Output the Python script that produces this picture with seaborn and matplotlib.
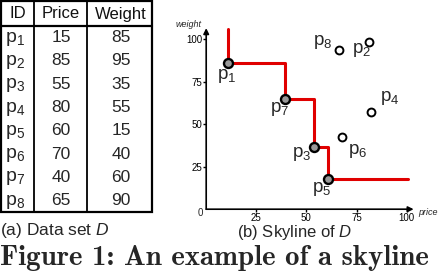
import matplotlib
matplotlib.use("Agg")
import matplotlib.pyplot as plt
from matplotlib.patches import Rectangle
import seaborn as sns
import pandas as pd

# ---- data ----
ids = ["p1", "p2", "p3", "p4", "p5", "p6", "p7", "p8"]
price = [15, 85, 55, 80, 60, 70, 40, 65]
weight = [85, 95, 35, 55, 15, 40, 60, 90]

# positions as drawn in panel (b)
plot_price = [11, 81, 53.6, 82, 61, 67.6, 39.5, 66.3]
plot_weight = [85.8, 98.2, 36.6, 57.4, 17.8, 42.6, 64.6, 93.6]
skyline_ids = ["p1", "p7", "p3", "p5"]

stair_price = [11, 11, 39.5, 53.6, 61, 100.5]
stair_weight = [106, 85.8, 64.6, 36.6, 17.8, 17.8]

tick_values = [25, 50, 75, 100]
header = ["ID", "Price", "Weight"]

# ---- style ----
sns.set_theme(style="white")
plt.rcParams["font.family"] = ["Liberation Sans", "DejaVu Sans"]
plt.rcParams["mathtext.fontset"] = "custom"
plt.rcParams["mathtext.rm"] = "Liberation Sans"
plt.rcParams["mathtext.it"] = "Liberation Sans:italic"

W, H = 444, 276
fig = plt.figure(figsize=(W / 100, H / 100), dpi=100)
fig.patch.set_facecolor("white")

# background axes in pixel coordinates for the table and captions
bg = fig.add_axes([0, 0, 1, 1])
bg.set_xlim(0, W)
bg.set_ylim(H, 0)
bg.axis("off")

def sub_label(name):
    return "p$_{%s}$" % name[1:]

# table
top, head_bot, row_h = 1, 26, 23.3
bottom = head_bot + row_h * len(ids)
bg.add_patch(Rectangle((1, top), 151, bottom - top, fill=False, lw=1.6, ec="black"))
bg.plot([1, 152], [head_bot, head_bot], color="black", lw=1.6)
for cx in (34, 87):
    bg.plot([cx, cx], [top, bottom], color="black", lw=1.3)
col_centers = [17.5, 61, 121]
for hx, htxt in zip(col_centers, header):
    bg.text(hx, 14, htxt, ha="center", va="center", fontsize=12, color="#111111")
for i, (pid, pr, wt) in enumerate(zip(ids, price, weight)):
    yc = head_bot + row_h * (i + 0.5)
    bg.text(5, yc + 1, sub_label(pid), ha="left", va="center", fontsize=14)
    bg.text(col_centers[1], yc, str(pr), ha="center", va="center", fontsize=12.5)
    bg.text(col_centers[2], yc, str(wt), ha="center", va="center", fontsize=12.5)

# captions
bg.text(0, 231, "(a) Data set $D$", ha="left", va="center", fontsize=12.5)
bg.text(295, 232.5, "(b) Skyline of $D$", ha="center", va="center", fontsize=12)
bg.text(0, 265, "Figure 1: An example of a skyline", ha="left",
        va="baseline", fontsize=20.8, family=["cmb10", "DejaVu Serif"])

# ---- skyline plot ----
x0, y0 = 206.2, 209.2
sx, sy = 2.004, 1.70
ax = fig.add_axes([x0 / W, (H - y0) / H, 110 * sx / W, 110 * sy / H])
ax.patch.set_visible(False)
ax.set_xlim(0, 110)
ax.set_ylim(0, 110)
for s in ax.spines.values():
    s.set_visible(False)

df = pd.DataFrame({"id": ids, "price": plot_price, "weight": plot_weight})
df["sky"] = df["id"].isin(skyline_ids)

sns.lineplot(x=stair_price, y=stair_weight, estimator=None, sort=False,
             drawstyle="steps-post", color="#e00000", lw=2.2, ax=ax, zorder=3)
sns.scatterplot(data=df[~df["sky"]], x="price", y="weight", color="white",
                edgecolor="black", s=32, linewidth=1.4, ax=ax, zorder=5)
sns.scatterplot(data=df[df["sky"]], x="price", y="weight", color="#999999",
                edgecolor="black", s=42, linewidth=1.7, ax=ax, zorder=6)

offsets = {"p1": (-2, -13), "p2": (-7, -8), "p3": (-12, -7), "p4": (19, 14),
           "p5": (-7, -10), "p6": (16, -14), "p7": (-6, -10), "p8": (-16, 8)}
for pid, px, py in zip(ids, plot_price, plot_weight):
    ax.annotate(sub_label(pid), (px, py), xytext=offsets[pid],
                textcoords="offset pixels", ha="center", va="center",
                fontsize=13.5, annotation_clip=False)

# axes with arrows
arrow = dict(arrowstyle="-|>", color="black", lw=1.2, mutation_scale=8,
             shrinkA=0, shrinkB=0)
ax.annotate("", xy=(103.5, 0), xytext=(0, 0), arrowprops=arrow, annotation_clip=False)
ax.annotate("", xy=(0, 106.5), xytext=(0, 0), arrowprops=arrow, annotation_clip=False)

ax.set_xticks(tick_values)
ax.set_yticks(tick_values)
ax.set_xticklabels([str(v) for v in tick_values])
ax.set_yticklabels([str(v) for v in tick_values])
ax.tick_params(direction="out", length=2.5, width=1, labelsize=7, pad=0.3,
               bottom=True, left=True, colors="black")
ax.set_xlabel("")
ax.set_ylabel("")
ax.text(-3.1, -2.5, "0", ha="center", va="center", fontsize=7)
ax.text(-9, 108.5, "weight", ha="center", va="center", fontsize=6.5, style="italic")
ax.text(110.5, -2.2, "price", ha="center", va="center", fontsize=6.5, style="italic")

fig.savefig("out.png", dpi=100, facecolor="white")
